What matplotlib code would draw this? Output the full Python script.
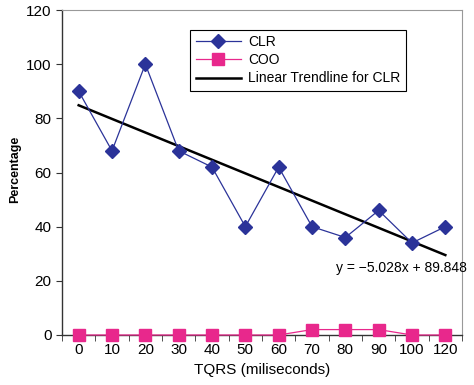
import numpy as np
import matplotlib.pyplot as plt
from matplotlib.ticker import FixedLocator

plt.rcParams['font.family'] = ['Liberation Sans', 'DejaVu Sans']

# ── DATA ──
tqrs_labels = ['0', '10', '20', '30', '40', '50', '60', '70', '80', '90', '100', '120']
clr = [90, 68, 100, 68, 62, 40, 62, 40, 36, 46, 34, 40]
coo = [0, 0, 0, 0, 0, 0, 0, 2, 2, 2, 0, 0]
slope, intercept = -5.028, 89.848

x = np.arange(len(tqrs_labels))
trend = slope * (x + 1) + intercept

fig = plt.figure(figsize=(4.74, 3.85), dpi=100)
ax = fig.add_axes([62 / 474, 50 / 385, 400 / 474, 325 / 385])

ax.plot(x, clr, color='#2b3399', linewidth=0.9, marker='D', markersize=7,
        markerfacecolor='#2b3399', markeredgecolor='#2b3399', label='CLR', zorder=3)
ax.plot(x, coo, color='#e8288c', linewidth=0.9, marker='s', markersize=8,
        markerfacecolor='#e8288c', markeredgecolor='#e8288c', label='COO', zorder=4,
        clip_on=False)
ax.plot(x, trend, color='black', linewidth=1.8, label='Linear Trendline for CLR', zorder=2)

ax.set_xlim(-0.5, len(x) - 0.5)
ax.set_ylim(0, 120)
ax.set_xticks(x)
ax.set_xticklabels(tqrs_labels, fontsize=11)
ax.tick_params(axis='x', length=0, pad=6)
ax.xaxis.set_minor_locator(FixedLocator(np.arange(-0.5, len(x), 1.0)))
ax.tick_params(axis='x', which='minor', length=4, direction='out', color='#333333')
ax.set_yticks(range(0, 121, 20))
ax.tick_params(axis='y', labelsize=11, length=4, direction='out', color='#333333')

for side in ['top', 'right']:
    ax.spines[side].set_color('#999999')
    ax.spines[side].set_linewidth(0.8)
for side in ['left', 'bottom']:
    ax.spines[side].set_color('#333333')
    ax.spines[side].set_linewidth(1.0)

ax.set_xlabel('TQRS (miliseconds)', fontsize=11, labelpad=4)
fig.text(15 / 474, 1 - 169 / 385, 'Percentage', rotation=90, ha='center', va='center',
         fontsize=9, fontweight='bold')

fig.text(467 / 474, 1 - 268 / 385, 'y = \u22125.028x + 89.848', ha='right', va='center',
         fontsize=10)

leg = ax.legend(loc='upper left', bbox_to_anchor=(128 / 400, 0.94), fontsize=10,
                frameon=True, fancybox=False, edgecolor='black', framealpha=1,
                borderaxespad=0, handlelength=3.3, labelspacing=0.3, borderpad=0.4,
                handletextpad=0.5)
leg.get_frame().set_linewidth(0.8)

fig.savefig('out.png', dpi=100)
